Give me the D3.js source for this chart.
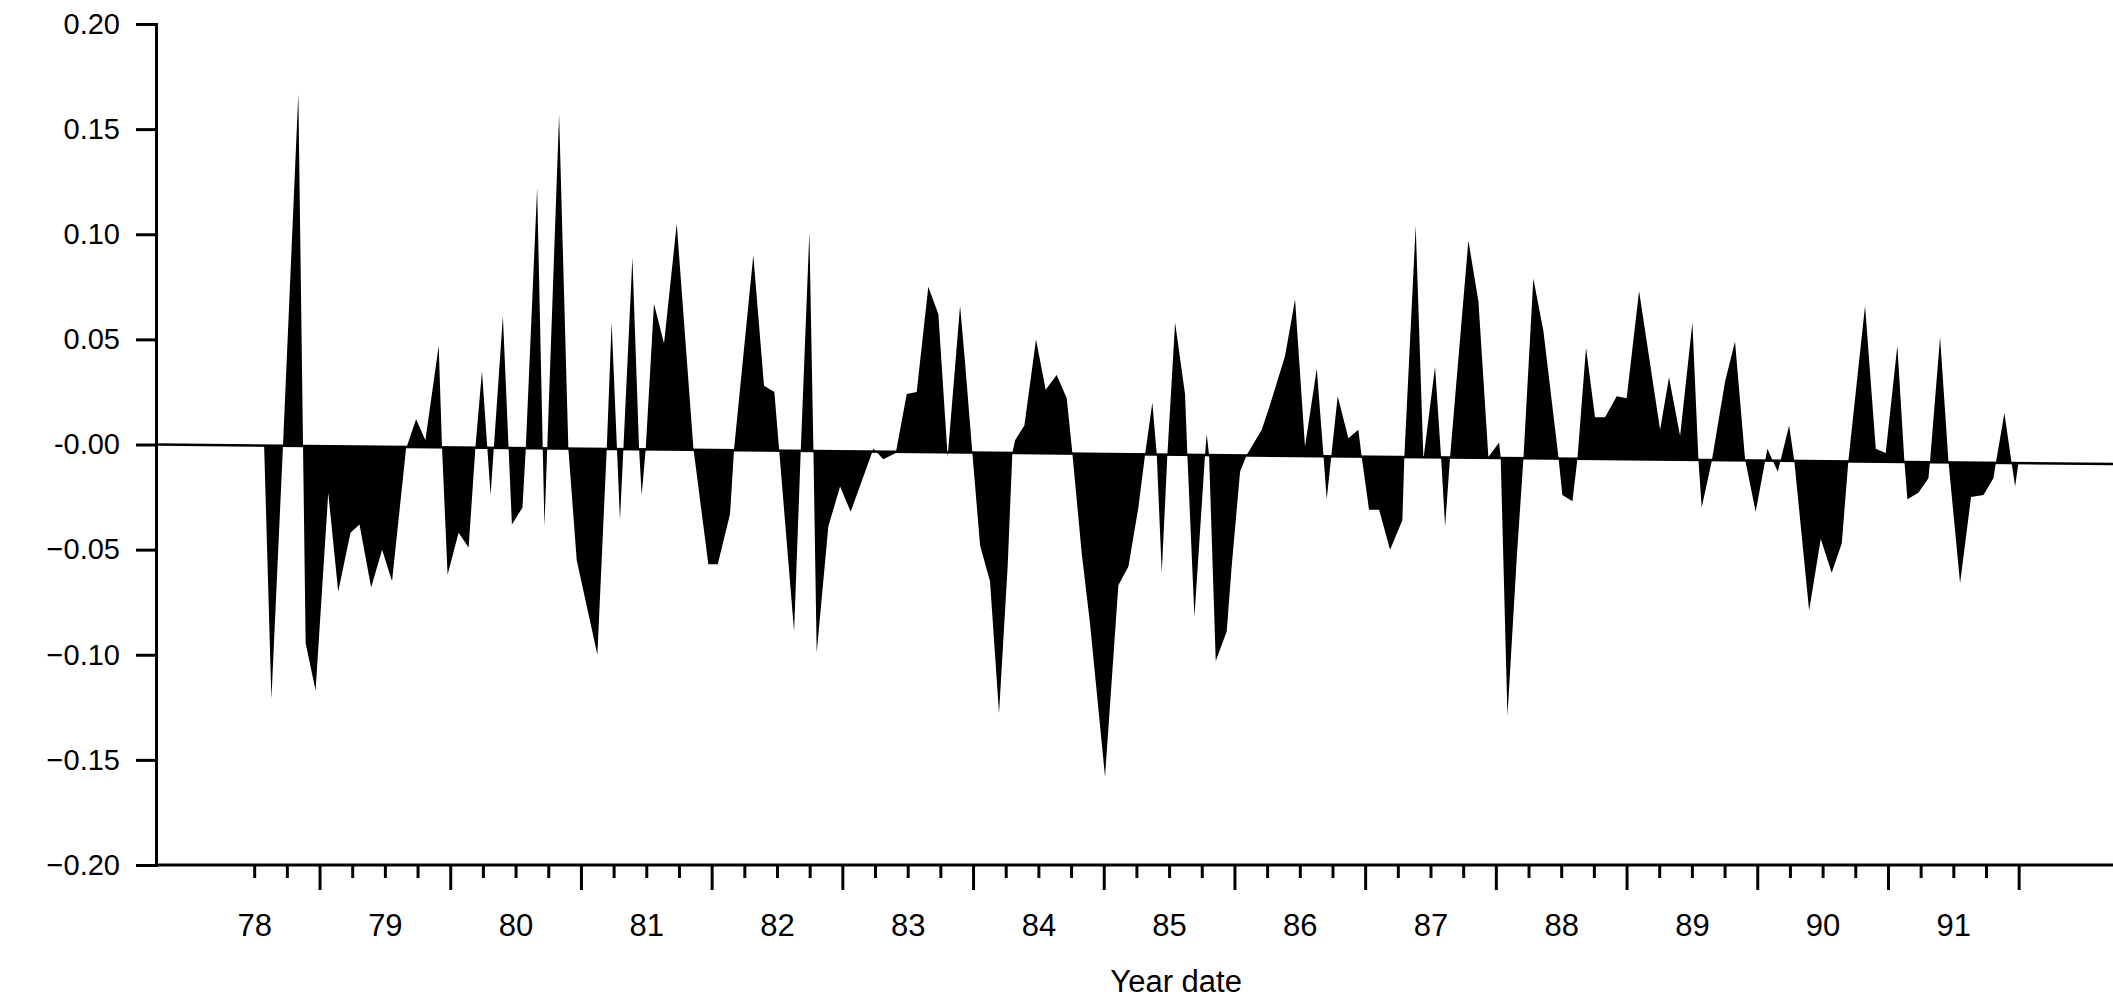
<!DOCTYPE html>
<html><head><meta charset="utf-8">
<script src="https://cdn.jsdelivr.net/npm/d3@7"></script>
<style>body{margin:0;background:#fff}text{font-family:"Liberation Sans",Arial,sans-serif;fill:#000}</style>
</head><body><svg id="c" width="2113" height="1000"></svg>
<script>
// decimal year of each vertex
const dates = [78.572,78.628,78.717,78.834,78.890,78.966,79.063,79.139,79.233,79.302,79.391,79.475,79.551,79.658,79.735,79.806,79.908,79.933,79.976,80.060,80.137,80.188,80.239,80.305,80.399,80.468,80.549,80.574,80.661,80.717,80.829,80.900,80.964,81.122,81.193,81.231,81.295,
81.321,81.390,81.441,81.461,81.492,81.555,81.632,81.729,81.857,81.971,82.043,82.137,82.168,82.315,82.397,82.476,82.512,82.627,82.678,82.744,82.775,82.800,82.889,82.979,83.060,83.234,83.310,83.405,83.489,83.565,83.654,83.731,83.802,83.897,
83.935,83.991,84.050,84.126,84.195,84.261,84.297,84.318,84.389,84.478,84.552,84.636,84.713,84.756,84.828,84.891,85.006,85.108,85.185,85.261,85.312,85.368,85.402,85.440,85.483,85.542,85.618,85.636,85.690,85.771,85.784,85.802,85.853,85.937,85.975,86.039,86.090,86.205,86.269,86.383,86.460,86.536,86.626,
86.677,86.702,86.786,86.868,86.944,86.970,87.026,87.103,87.187,87.281,87.296,87.383,87.442,87.531,87.577,87.608,87.646,87.786,87.863,87.939,88.021,88.033,88.085,88.156,88.207,88.283,88.360,88.475,88.505,88.582,88.620,88.686,88.755,88.832,88.921,88.997,89.092,89.253,89.321,
89.406,89.500,89.546,89.571,89.648,89.750,89.826,89.903,89.984,90.056,90.074,90.153,90.240,90.280,90.393,90.482,90.566,90.643,90.693,90.821,90.903,90.979,91.068,91.122,91.145,91.229,91.306,91.318,91.395,91.459,91.548,91.632,91.727,91.803,91.821,91.887,91.943,91.969,91.994];
const values = [0.000,-0.121,0.000,0.167,-0.0945,-0.117,-0.023,-0.070,-0.042,-0.038,-0.068,-0.050,-0.065,-0.002,0.012,0.002,0.047,-0.001,-0.062,-0.042,-0.049,-0.002,0.035,-0.024,0.061,-0.038,-0.030,-0.002,0.122,-0.039,0.157,-0.002,-0.055,-0.100,-0.003,0.058,-0.036,
-0.002,0.089,-0.002,-0.024,-0.002,0.067,0.048,0.105,-0.002,-0.057,-0.057,-0.033,-0.002,0.090,0.028,0.025,-0.002,-0.089,-0.003,0.101,-0.003,-0.099,-0.039,-0.020,-0.032,-0.002,-0.007,-0.004,0.024,0.025,0.075,0.062,-0.006,0.066,
0.039,-0.004,-0.048,-0.065,-0.128,-0.058,-0.004,0.002,0.009,0.050,0.026,0.033,0.022,-0.004,-0.052,-0.085,-0.158,-0.067,-0.058,-0.030,-0.005,0.020,-0.005,-0.061,-0.005,0.058,0.024,-0.005,-0.082,-0.005,0.005,-0.005,-0.103,-0.089,-0.058,-0.013,-0.005,0.007,0.019,0.042,0.069,-0.001,0.036,
-0.005,-0.026,0.023,0.003,0.007,-0.006,-0.031,-0.031,-0.050,-0.036,-0.006,0.104,-0.007,0.037,-0.006,-0.039,-0.006,0.097,0.068,-0.006,0.001,-0.006,-0.129,-0.054,-0.007,0.079,0.054,-0.006,-0.024,-0.027,-0.007,0.046,0.013,0.013,0.023,0.022,0.073,0.007,0.032,
0.004,0.058,-0.007,-0.030,-0.008,0.030,0.049,-0.007,-0.032,-0.008,-0.002,-0.013,0.009,-0.008,-0.079,-0.045,-0.061,-0.047,-0.008,0.066,-0.002,-0.004,0.047,-0.008,-0.026,-0.023,-0.016,-0.008,0.051,-0.008,-0.066,-0.025,-0.024,-0.016,-0.009,0.015,-0.009,-0.020,-0.009];
// reference (baseline) line: value at left edge and right edge of the plot
const baseline = [0.000, -0.0093];
const yTicks = [0.20,0.15,0.10,0.05,0.00,-0.05,-0.10,-0.15,-0.20];
const yearLabels = ["78","79","80","81","82","83","84","85","86","87","88","89","90","91"];
const xTitle = "Year date";

const svg = d3.select("#c");
const x = d3.scaleLinear().domain([77.745, 92.718]).range([156, 2113]);
const y = d3.scaleLinear().domain([-0.20, 0.20]).range([865, 24]);
const base = d3.scaleLinear().domain(x.domain()).range(baseline);
const data = dates.map((d,i)=>({d, v: values[i]}));

svg.append("path").datum(data)
  .attr("d", d3.area().x(p=>x(p.d)).y0(p=>y(base(p.d))).y1(p=>y(p.v)))
  .attr("fill","#000");
svg.append("line").attr("x1",x(77.745)).attr("x2",x(92.718))
  .attr("y1",y(baseline[0])).attr("y2",y(baseline[1]))
  .attr("stroke","#000").attr("stroke-width",2.5);

// y axis
const ya = svg.append("g").attr("transform","translate(156,0)")
  .call(d3.axisLeft(y).tickValues(yTicks).tickSize(20).tickPadding(16)
    .tickFormat(v => v===0 ? "-0.00" : (v<0 ? "\u22120" + d3.format(".2f")(-v).slice(1) : d3.format(".2f")(v))));
ya.select(".domain").attr("stroke-width",3);
ya.selectAll(".tick line").attr("stroke-width",3);
ya.selectAll("text").attr("font-size",29).attr("font-family","Liberation Sans, Arial, sans-serif");

// x axis
const quarter = d3.range(0, 55).map(i => 78.5 + i*0.25);
const xa = svg.append("g").attr("transform","translate(0,865)");
xa.append("line").attr("x1",156).attr("x2",2113).attr("stroke","#000").attr("stroke-width",3);
xa.selectAll("line.t").data(quarter).join("line").attr("class","t")
  .attr("x1",d=>x(d)).attr("x2",d=>x(d)).attr("y1",0)
  .attr("y2",d=>Math.abs(d-Math.round(d))<1e-6 ? 25 : 13)
  .attr("stroke","#000").attr("stroke-width",3);
xa.selectAll("text").data(yearLabels).join("text")
  .attr("x",(d,i)=>x(78.5+i)).attr("y",60).attr("dy","0.35em")
  .attr("text-anchor","middle").attr("font-size",31).text(d=>d);
svg.append("text").attr("x",x(85.55)).attr("y",992).attr("text-anchor","middle")
  .attr("font-size",31).text(xTitle);
</script></body></html>
